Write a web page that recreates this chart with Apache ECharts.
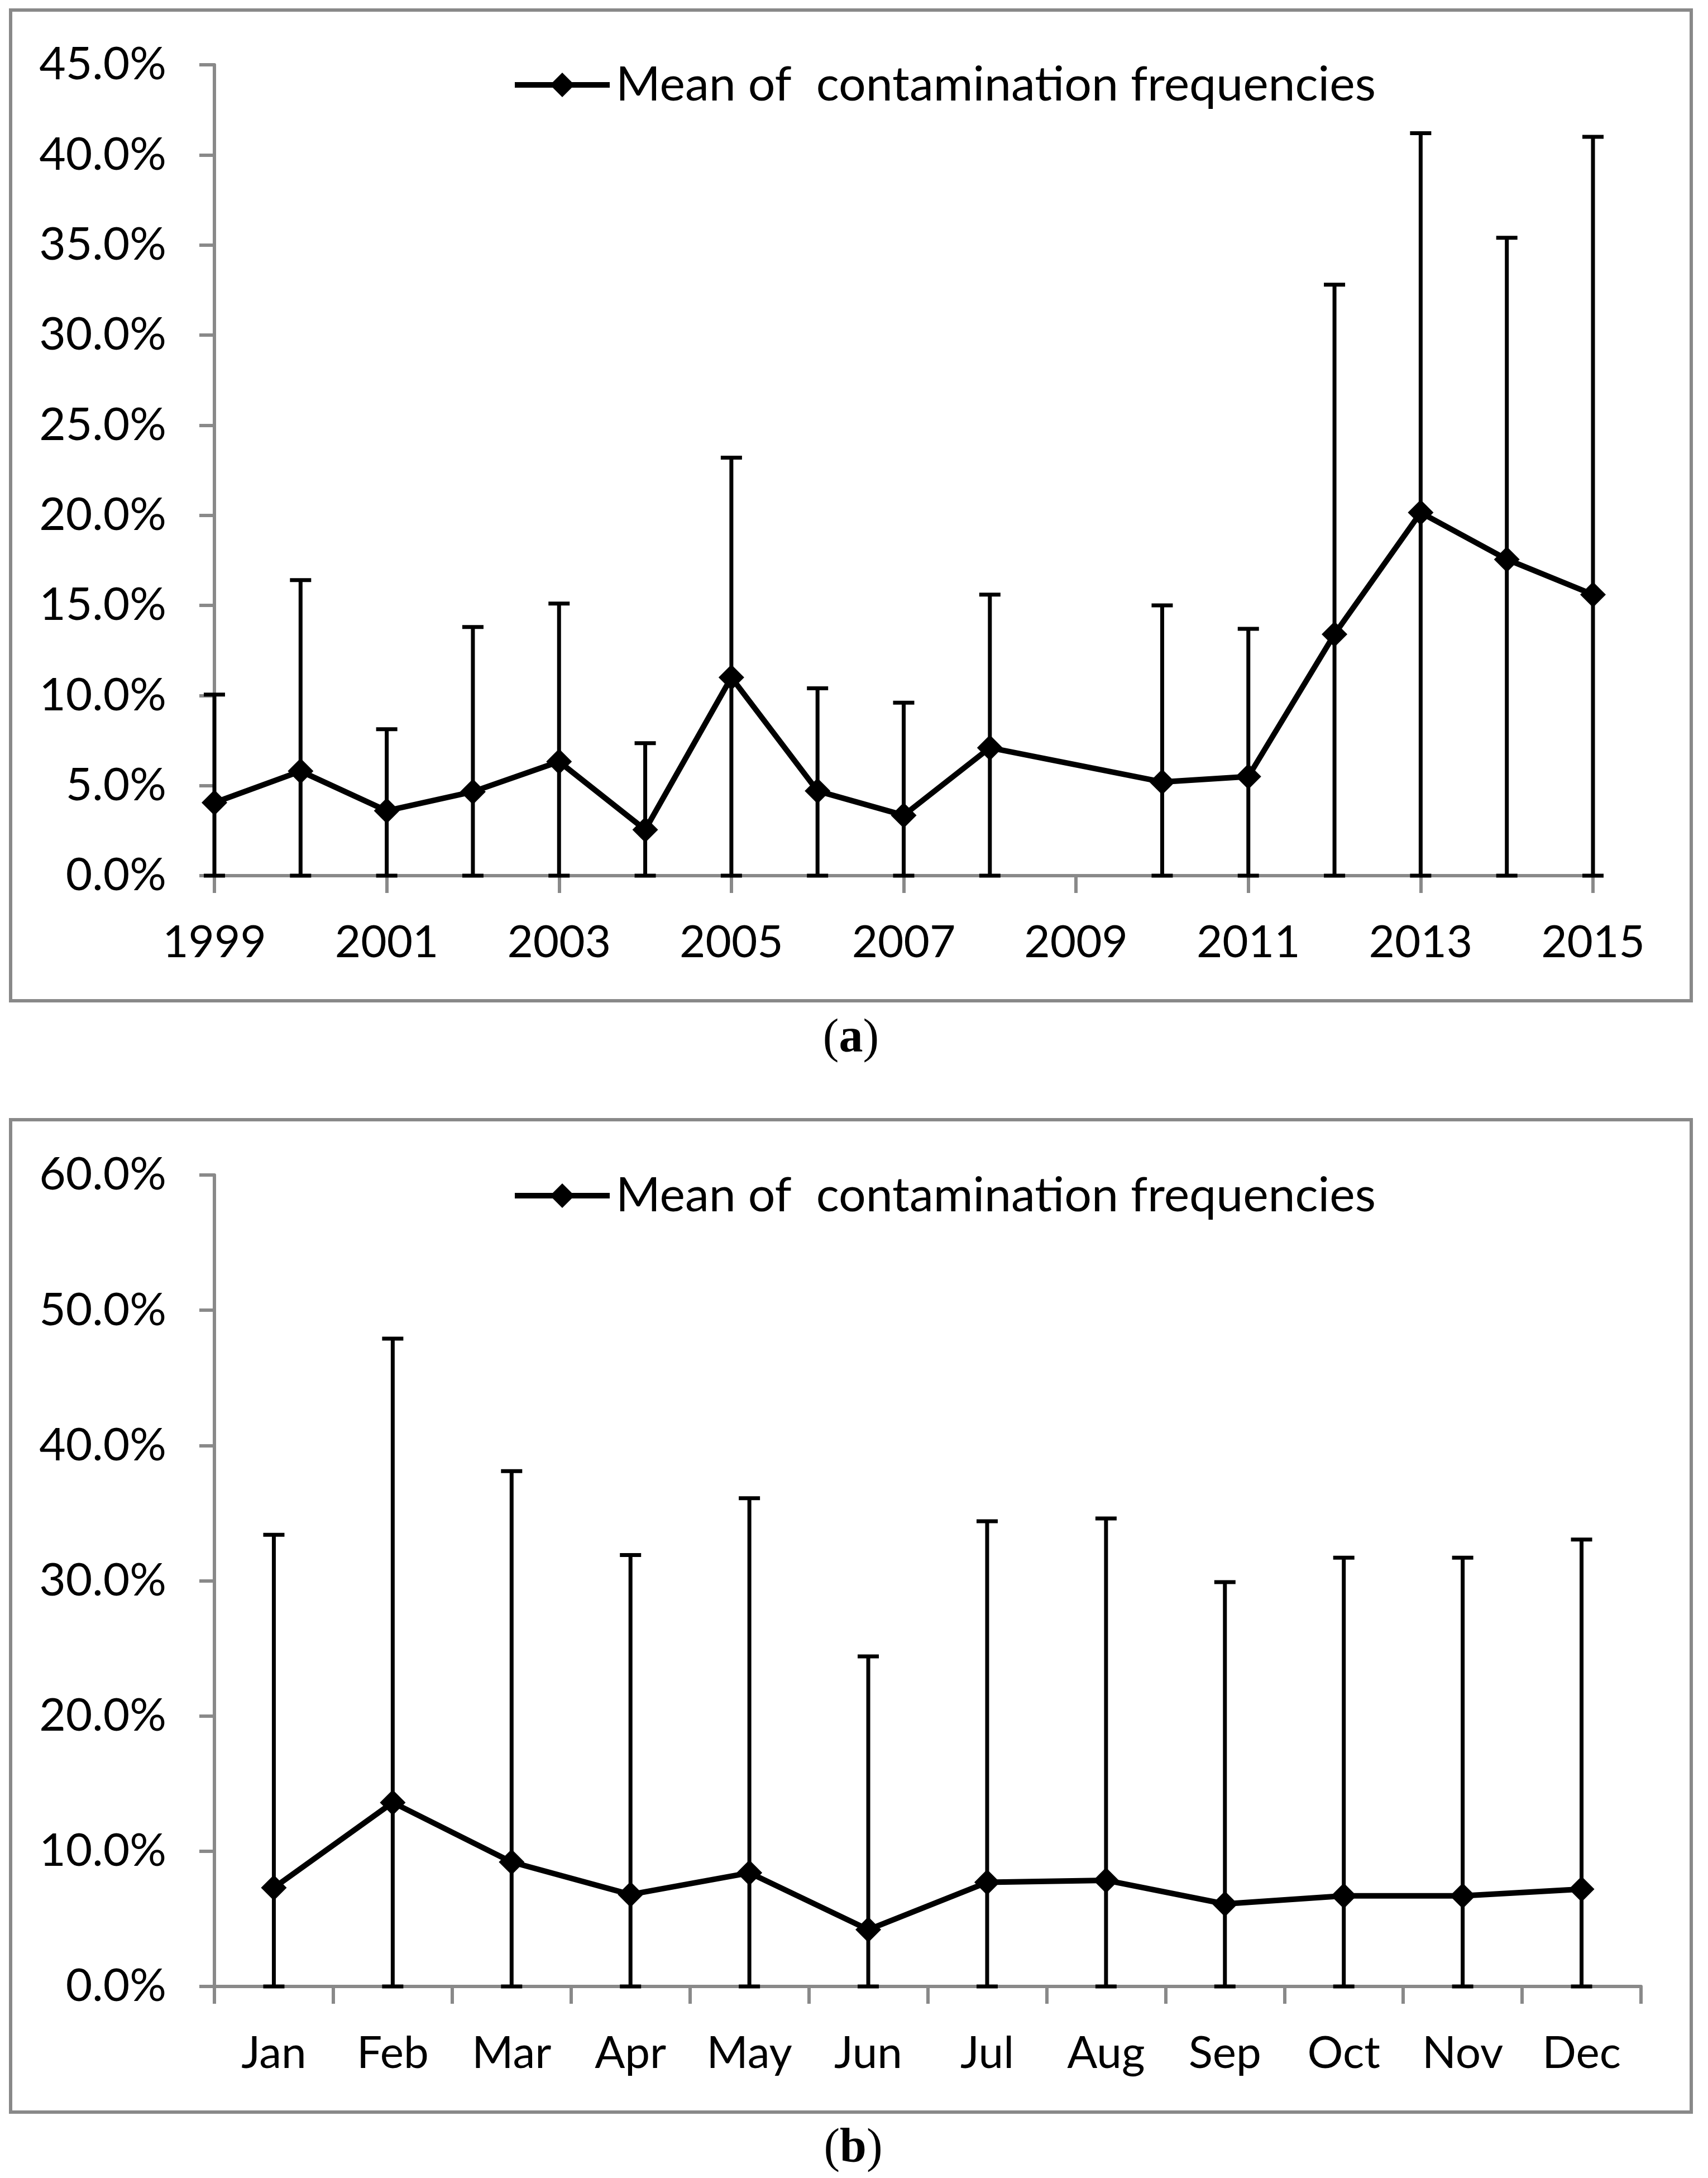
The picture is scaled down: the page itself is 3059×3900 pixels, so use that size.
<!DOCTYPE html>
<html>
<head>
<meta charset="utf-8">
<script src="https://cdn.jsdelivr.net/npm/echarts@6/dist/echarts.min.js"></script>
<style>
html,body{margin:0;padding:0;background:#ffffff;}
#chart{width:3059px;height:3900px;}
</style>
</head>
<body>
<div id="chart"></div>
<script>
// ---- Data (values in percent) ----
const legendName = 'Mean of  contamination frequencies';

const yearCategories = ['1999','2000','2001','2002','2003','2004','2005','2006','2007','2008','2009','2010','2011','2012','2013','2014','2015'];
const yearMeans = [4.05, 5.8, 3.6, 4.66, 6.33, 2.55, 11.0, 4.7, 3.35, 7.1, null, 5.2, 5.5, 13.4, 20.15, 17.55, 15.6];
const yearUpper = [10.05, 16.4, 8.13, 13.8, 15.1, 7.35, 23.2, 10.4, 9.6, 15.6, null, 15.0, 13.7, 32.8, 41.2, 35.4, 41.0];

const monthCategories = ['Jan','Feb','Mar','Apr','May','Jun','Jul','Aug','Sep','Oct','Nov','Dec'];
const monthMeans = [7.3, 13.6, 9.2, 6.8, 8.4, 4.2, 7.7, 7.85, 6.1, 6.7, 6.7, 7.2];
const monthUpper = [33.4, 47.9, 38.1, 31.9, 36.1, 24.4, 34.4, 34.6, 29.9, 31.7, 31.7, 33.05];

const yAxisA = {min: 0, max: 45, interval: 5};
const yAxisB = {min: 0, max: 60, interval: 10};
const panelLabels = ['a', 'b'];

// ---- Styling ----
const GREY = '#898989';
const FONT = 'Lato';
const chart = echarts.init(document.getElementById('chart'), null, {renderer: 'canvas'});

function errorBarRender(params, api) {
  const xv = api.value(0);
  const up = api.value(1);
  const top = api.coord([xv, up]);
  const bot = api.coord([xv, 0]);
  const half = 19;
  const style = {stroke: '#000', lineWidth: 7, fill: 'none'};
  return {
    type: 'group',
    children: [
      {type: 'line', shape: {x1: top[0], y1: top[1], x2: bot[0], y2: bot[1]}, style: style},
      {type: 'line', shape: {x1: top[0] - half, y1: top[1], x2: top[0] + half, y2: top[1]}, style: style},
      {type: 'line', shape: {x1: bot[0] - half, y1: bot[1], x2: bot[0] + half, y2: bot[1]}, style: style}
    ]
  };
}

function errData(upper) {
  const out = [];
  upper.forEach((v, i) => { if (v != null) out.push([i, v]); });
  return out;
}

function yAxisCfg(idx, rng) {
  return {
    type: 'value', gridIndex: idx, min: rng.min, max: rng.max, interval: rng.interval,
    axisLine: {show: true, lineStyle: {color: GREY, width: 6}},
    axisTick: {show: true, length: 27, lineStyle: {color: GREY, width: 6}},
    splitLine: {show: false},
    axisLabel: {
      show: true, margin: 86, color: '#000', fontFamily: FONT, fontSize: 82,
      formatter: v => v.toFixed(1) + '%'
    }
  };
}

function legendCfg(top) {
  return {
    show: true, left: 912, top: top, orient: 'horizontal',
    itemWidth: 170, itemHeight: 55, itemGap: 0, selectedMode: false,
    data: [legendName],
    lineStyle: {color: '#000', width: 10},
    itemStyle: {color: '#000'},
    textStyle: {color: '#000', fontFamily: FONT, fontSize: 86, lineHeight: 56, padding: [0, 0, 0, 6]}
  };
}

const option = {
  backgroundColor: '#ffffff',
  animation: false,
  grid: [
    {left: 384, right: 206, top: 116, bottom: 2332, containLabel: false, outerBoundsMode: 'none'},
    {left: 384, right: 120, top: 2104, bottom: 343, containLabel: false, outerBoundsMode: 'none'}
  ],
  legend: [legendCfg(104), legendCfg(2093)],
  xAxis: [
    {
      type: 'category', gridIndex: 0, data: yearCategories, boundaryGap: false,
      axisLine: {show: true, lineStyle: {color: GREY, width: 6}},
      axisTick: {show: true, interval: 1, length: 31, lineStyle: {color: GREY, width: 6}},
      axisLabel: {show: true, interval: 1, margin: 80, color: '#000', fontFamily: FONT, fontSize: 80},
      splitLine: {show: false}
    },
    {
      type: 'category', gridIndex: 1, data: monthCategories, boundaryGap: true,
      axisLine: {show: true, lineStyle: {color: GREY, width: 6}},
      axisTick: {show: true, interval: 0, length: 31, lineStyle: {color: GREY, width: 6}},
      axisLabel: {show: true, interval: 0, margin: 80, color: '#000', fontFamily: FONT, fontSize: 80},
      splitLine: {show: false}
    }
  ],
  yAxis: [yAxisCfg(0, yAxisA), yAxisCfg(1, yAxisB)],
  series: [
    {
      type: 'custom', name: 'err-a', xAxisIndex: 0, yAxisIndex: 0, z: 2,
      renderItem: errorBarRender, data: errData(yearUpper), silent: true
    },
    {
      type: 'line', name: legendName, xAxisIndex: 0, yAxisIndex: 0, z: 3,
      data: yearMeans, connectNulls: true,
      symbol: 'diamond', symbolSize: 46, showSymbol: true,
      lineStyle: {color: '#000', width: 10},
      itemStyle: {color: '#000'}
    },
    {
      type: 'custom', name: 'err-b', xAxisIndex: 1, yAxisIndex: 1, z: 2,
      renderItem: errorBarRender, data: errData(monthUpper), silent: true
    },
    {
      type: 'line', name: legendName, xAxisIndex: 1, yAxisIndex: 1, z: 3,
      data: monthMeans, connectNulls: true,
      symbol: 'diamond', symbolSize: 46, showSymbol: true,
      lineStyle: {color: '#000', width: 10},
      itemStyle: {color: '#000'}
    }
  ],
  graphic: [
    {type: 'rect', silent: true, z: -10, shape: {x: 19, y: 18, width: 3010, height: 1774},
     style: {fill: 'none', stroke: GREY, lineWidth: 6}},
    {type: 'rect', silent: true, z: -10, shape: {x: 19, y: 2005, width: 3010, height: 1777},
     style: {fill: 'none', stroke: GREY, lineWidth: 6}},
    {type: 'text', silent: true, x: 1524, y: 1861,
     style: {text: '{p|(}{b|' + panelLabels[0] + '}{p|)}', align: 'center', verticalAlign: 'middle',
       rich: {p: {fontFamily: 'Liberation Serif', fontSize: 86, fill: '#000'},
              b: {fontFamily: 'Liberation Serif', fontSize: 86, fontWeight: 'bold', fill: '#000'}}}},
    {type: 'text', silent: true, x: 1528, y: 3848,
     style: {text: '{p|(}{b|' + panelLabels[1] + '}{p|)}', align: 'center', verticalAlign: 'middle',
       rich: {p: {fontFamily: 'Liberation Serif', fontSize: 86, fill: '#000'},
              b: {fontFamily: 'Liberation Serif', fontSize: 86, fontWeight: 'bold', fill: '#000'}}}}
  ]
};
chart.setOption(option);
</script>
</body>
</html>
